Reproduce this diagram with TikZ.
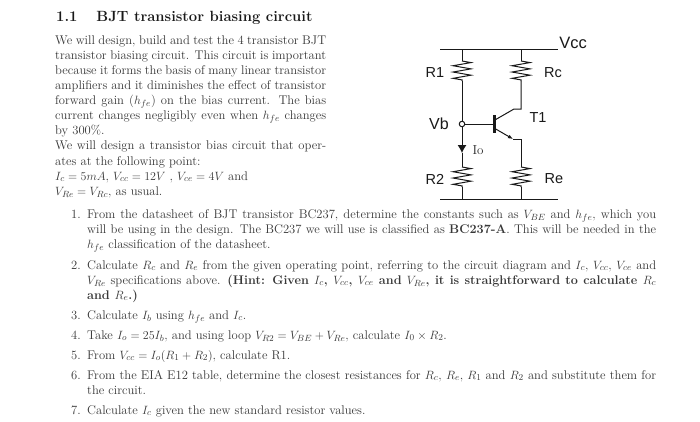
\documentclass[tikz,border=0pt]{standalone}
\usepackage{fontspec}
\setsansfont{Liberation Sans}
\usetikzlibrary{decorations.pathmorphing,arrows.meta}

\tikzset{
  txt/.style={anchor=base west,inner sep=0pt,text=black!78,font=\fontsize{12.6}{14}\selectfont},
  lbl/.style={inner sep=0pt,font=\sffamily\fontsize{14.5}{16}\selectfont,text=black!90},
  wire/.style={line width=1pt,black!90},
  res/.style={wire,decorate,decoration={zigzag,segment length=6.3pt,amplitude=9pt}}
}

\begin{document}
\begin{tikzpicture}[x=1pt,y=-1pt]
        \useasboundingbox[fill=white] (0,0) rectangle (700,421);

        % heading and left column
        \node [txt,text=black!90,font=\fontsize{14.8}{17}\selectfont\bfseries] (head) at (56,21) {\hbox to 254pt{1.1\hskip 19pt BJT transistor biasing circuit\hss}};
        \node [txt] (p1) at (55,44) {\hbox to 271pt{We will design, build and test the 4 transistor BJT}};
        \node [txt] (p2) at (55,59) {\hbox to 271pt{transistor biasing circuit. This circuit is important}};
        \node [txt] (p3) at (55,74) {\hbox to 271pt{because it forms the basis of many linear transistor}};
        \node [txt] (p4) at (55,89) {\hbox to 271pt{amplifiers and it diminishes the effect of transistor}};
        \node [txt] (p5) at (55,104) {\hbox to 271pt{forward gain (\(h_{fe}\)) on the bias current. The bias}};
        \node [txt] (p6) at (55,119) {\hbox to 271pt{current changes negligibly even when \(h_{fe}\) changes}};
        \node [txt] (p7) at (55,134) {by 300\%.};
        \node [txt] (p8) at (55,149) {\hbox to 271pt{We will design a transistor bias circuit that oper-}};
        \node [txt] (p9) at (55,165) {ates at the following point:};
        \node [txt] (p10) at (55,180) {\(I_c=5mA\), \(V_{cc}=12V\) , \(V_{ce}=4V\) and};
        \node [txt] (p11) at (55,195) {\(V_{Re}=V_{Rc}\), as usual.};

        % numbered list
        \node [txt] (n1) at (71,218) {1.};
        \node [txt] (i1a) at (87,218) {\hbox to 569pt{From the datasheet of BJT transistor BC237, determine the constants such as \(V_{BE}\) and \(h_{fe}\), which you}};
        \node [txt] (i1b) at (87,233) {\hbox to 569pt{will be using in the design. The BC237 we will use is classified as \textbf{BC237-A}. This will be needed in the}};
        \node [txt] (i1c) at (87,248) {\(h_{fe}\) classification of the datasheet.};
        \node [txt] (n2) at (71,269) {2.};
        \node [txt] (i2a) at (87,269) {\hbox to 569pt{Calculate \(R_c\) and \(R_e\) from the given operating point, referring to the circuit diagram and \(I_c\), \(V_{cc}\), \(V_{ce}\) and}};
        \node [txt] (i2b) at (87,284) {\hbox to 569pt{\(V_{Re}\) specifications above. \textbf{(Hint: Given \(I_c\), \(V_{cc}\), \(V_{ce}\) and \(V_{Re}\), it is straightforward to calculate \(R_c\)}}};
        \node [txt] (i2c) at (87,299) {\textbf{and \(R_e\).)}};
        \node [txt] (n3) at (71,319) {3.};
        \node [txt] (i3) at (87,319) {Calculate \(I_b\) using \(h_{fe}\) and \(I_c\).};
        \node [txt] (n4) at (71,339) {4.};
        \node [txt] (i4) at (87,339) {Take \(I_o=25I_b\), and using loop \(V_{R2}=V_{BE}+V_{Re}\), calculate \(I_0\times R_2\).};
        \node [txt] (n5) at (71,359) {5.};
        \node [txt] (i5) at (87,359) {From \(V_{cc}=I_o(R_1+R_2)\), calculate R1.};
        \node [txt] (n6) at (71,379) {6.};
        \node [txt] (i6a) at (87,379) {\hbox to 569pt{From the EIA E12 table, determine the closest resistances for \(R_c\), \(R_e\), \(R_1\) and \(R_2\) and substitute them for}};
        \node [txt] (i6b) at (87,394) {the circuit.};
        \node [txt] (n7) at (71,414) {7.};
        \node [txt] (i7) at (87,414) {Calculate \(I_c\) given the new standard resistor values.};

        % circuit points
        \coordinate (railtl) at (440,49);
        \coordinate (railtr) at (558,49);
        \coordinate (railbl) at (440,199);
        \coordinate (railbr) at (558,199);
        \coordinate (lt) at (462,49);
        \coordinate (rt) at (521,49);
        \coordinate (lb) at (462,199);
        \coordinate (rb) at (521,199);
        \coordinate (R1a) at (462,61);
        \coordinate (R1b) at (462,81);
        \coordinate (Rca) at (521,61);
        \coordinate (Rcb) at (521,81);
        \coordinate (R2a) at (462,167);
        \coordinate (R2b) at (462,187);
        \coordinate (Rea) at (521,167);
        \coordinate (Reb) at (521,187);
        \coordinate (coll) at (521,109);
        \coordinate (colk) at (514,109);
        \coordinate (emit) at (521,139);
        \coordinate (emik) at (513,139);
        \coordinate (barT) at (494,115);
        \coordinate (barB) at (494,133);
        \coordinate (barC) at (494,120.5);
        \coordinate (barE) at (494,128);
        \coordinate (bas) at (494,124);
        \coordinate (ioa) at (462,153);

        \draw [wire] (railtl) -- (railtr);
        \draw [wire] (railbl) -- (railbr);

        \draw [wire] (lt) -- (R1a);
        \draw [res] (R1a) -- (R1b);
        \draw [wire] (rt) -- (Rca);
        \draw [res] (Rca) -- (Rcb);
        \draw [wire] (Rcb) -- (coll) -- (colk) -- (barC);

        \node [circle,draw,wire,fill=white,inner sep=0pt,minimum size=5.5pt] (Vbn) at (462,124) {};
        \draw [wire] (R1b) -- (Vbn);
        \draw [wire] (Vbn) -- (bas);
        \draw [line width=3pt,black!90] (barT) -- (barB);
        \draw [wire,-{Latex[length=8pt,width=9pt]}] (Vbn) -- (ioa);
        \draw [wire] (ioa) -- (R2a);
        \draw [res] (R2a) -- (R2b);
        \draw [wire] (R2b) -- (lb);

        \draw [wire,-{Latex[length=5pt,width=4pt]}] (barE) -- (emik);
        \draw [wire] (emik) -- (emit) -- (Rea);
        \draw [res] (Rea) -- (Reb);
        \draw [wire] (Reb) -- (rb);

        % circuit labels
        \node [lbl,font=\sffamily\fontsize{16.5}{18}\selectfont] (vcc) at (573,43) {Vcc};
        \node [lbl] (r1) at (435,73) {R1};
        \node [lbl] (rc) at (553,73) {Rc};
        \node [lbl,font=\sffamily\fontsize{16}{18}\selectfont] (vb) at (439,124) {Vb};
        \node [lbl] (t1) at (538,118) {T1};
        \node [inner sep=0pt,text=black!85,font=\fontsize{13}{14}\selectfont] (io) at (478,150) {Io};
        \node [lbl] (r2) at (435,179) {R2};
        \node [lbl] (re) at (554,179) {Re};
      \end{tikzpicture}
\end{document}
